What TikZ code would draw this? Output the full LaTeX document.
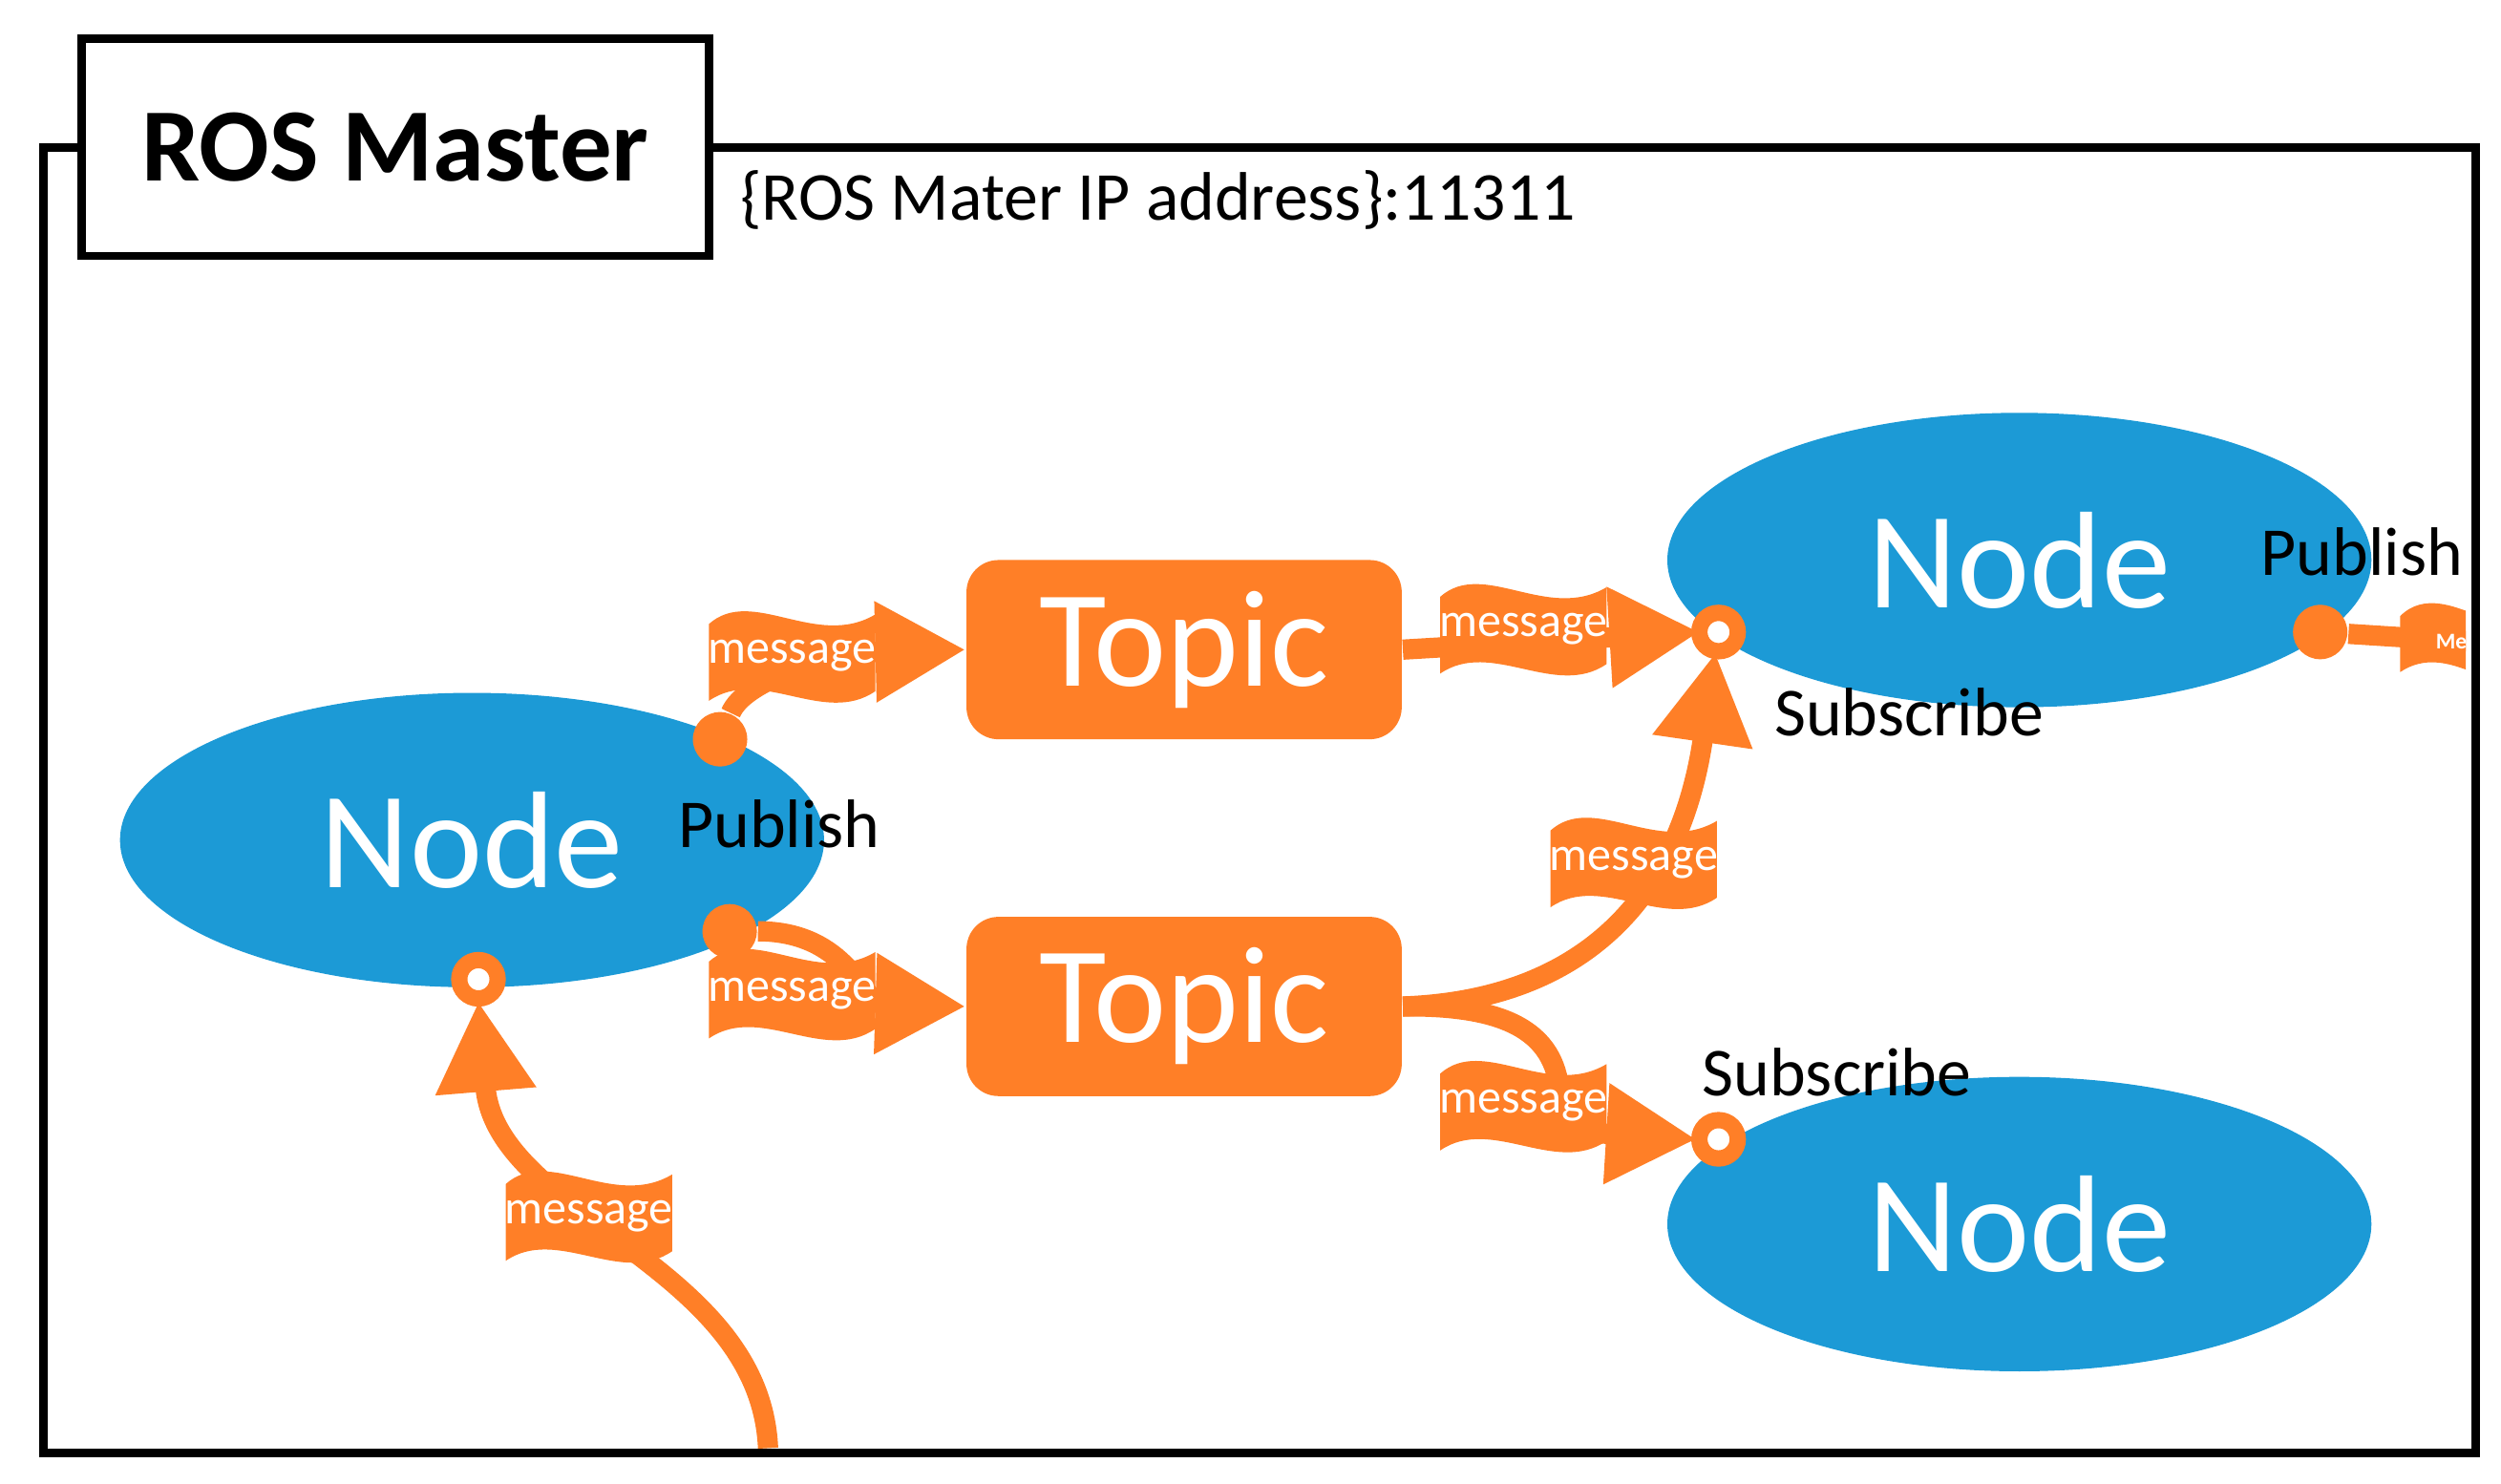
\documentclass[tikz,border=0pt]{standalone}
\usepackage{fontspec}
\setmainfont{Carlito}
\usetikzlibrary{arrows.meta,shapes.geometric}
\definecolor{ros}{HTML}{FF7F27}
\definecolor{nodeblue}{HTML}{1C9AD6}
\begin{document}
\begin{tikzpicture}[x=0.1mm,y=-0.1mm,
  rosnode/.style={ellipse,fill=nodeblue,minimum width=44mm,minimum height=18.4mm,inner sep=0,text=white,font=\fontsize{24.5}{24.5}\selectfont},
  topic/.style={rectangle,rounded corners=2mm,fill=ros,minimum width=27.2mm,minimum height=11.2mm,inner sep=0,text=white,font=\fontsize{24.5}{24.5}\selectfont},
  pub/.style={circle,fill=ros,minimum size=3.4mm,inner sep=0},
  sub/.style={circle,draw=ros,line width=2.9pt,fill=white,minimum size=2.4mm,inner sep=0},
  lab/.style={font=\fontsize{12.2}{12.2}\selectfont,inner sep=0},
  msg/.style={draw=ros,line width=3.6pt,-{Triangle[length=16pt,width=17pt]}},
  flag/.pic={\fill[ros] (-52,-20) .. controls (-25,-44) and (15,-4) .. (52,-26) -- (52,22) .. controls (20,44) and (-20,6) .. (-52,28) -- cycle;
             \node[text=white,font=\fontsize{8.5}{8.5}\selectfont,inner sep=0] at (0,0) {message};}
]
\useasboundingbox (0,0) rectangle (1563,927);
% frame
\draw[line width=1.5pt] (27,92) rectangle (1547,908);
\node[draw,line width=1.5pt,fill=white,minimum width=39.2mm,minimum height=13.6mm,inner sep=0,font=\fontsize{18.5}{18.5}\selectfont\bfseries] (master) at (247,92) {ROS Master};
\node[anchor=west,inner sep=0,font=\fontsize{12.2}{12.2}\selectfont] (ip) at (462,125) {\{ROS Mater IP address\}:11311};
% nodes
\node[rosnode] (n1) at (295,525) {Node};
\node[rosnode] (n2) at (1262,350) {Node};
\node[rosnode] (n3) at (1262,765) {Node};
\node[topic] (t1) at (740,406) {Topic};
\node[topic] (t2) at (740,629) {Topic};
% labels
\node[lab] (lp1) at (487,515) {Publish};
\node[lab] (lp2) at (1476,345) {Publish};
\node[lab] (ls1) at (1193,445) {Subscribe};
\node[lab] (ls2) at (1148,670) {Subscribe};
% ports
\node[pub] (p1) at (450,462) {};
\node[pub] (p2) at (456,582) {};
\node[pub] (p3) at (1450,395) {};
\coordinate (c6) at (480,905);
\coordinate (c5) at (995,708);
\coordinate (c7) at (1560,402);
% connectors
\draw[msg] (p1) .. controls (465,425) and (520,408) .. (t1.west);
\draw[msg] (p2) .. controls (530,582) and (540,627) .. (t2.west);
\draw[msg] (t1.east) -- (1062,395);
\draw[msg] (t2.east) .. controls (990,625) and (1050,560) .. (1072,408);
\draw[msg] (t2.east) .. controls (950,628) and (975,650) .. (975,690) -- (c5) -- (1060,712);
\draw[msg] (c6) .. controls (475,790) and (310,760) .. (299,626);
\begin{scope}
\clip (0,0) rectangle (1541,927);
\draw[draw=ros,line width=3.6pt] (p3) -- (c7);
\fill[ros] (1500,385) .. controls (1515,370) and (1535,380) .. (1545,383) -- (1545,420) .. controls (1530,414) and (1515,410) .. (1500,420) -- cycle;
\node[text=white,font=\fontsize{4}{4}\selectfont\bfseries,inner sep=0] at (1532,401) {Me};
\end{scope}
% subscribe rings
\node[sub] (s1) at (1074,395) {};
\node[sub] (s2) at (1074,712) {};
\node[sub] (s0) at (299,612) {};
% flags
\pic at (495,410) {flag};
\pic at (495,621) {flag};
\pic at (952,393) {flag};
\pic at (1021,539) {flag};
\pic at (952,691) {flag};
\pic at (368,760) {flag};
\end{tikzpicture}
\end{document}
